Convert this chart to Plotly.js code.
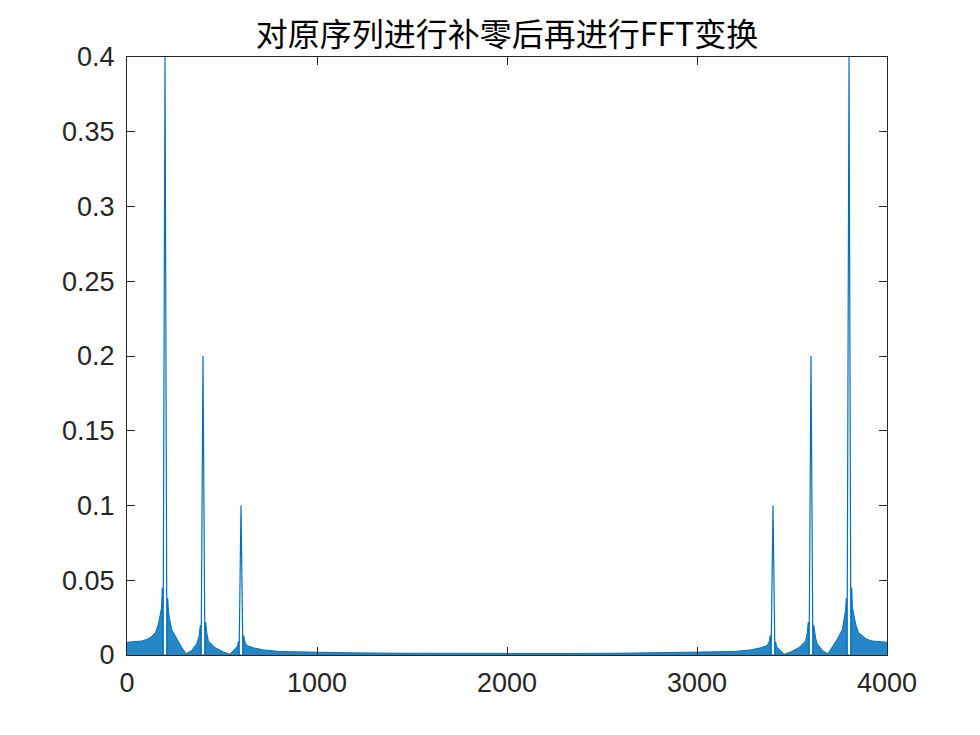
<!DOCTYPE html>
<html><head><meta charset="utf-8">
<script src="https://cdn.plot.ly/plotly-3.0.1.min.js"></script>
<style>html,body{margin:0;padding:0;background:#fff}#chart{width:980px;height:735px}</style>
</head><body><div id="chart"></div>
<script>
// Spectrum body (sidelobe envelope), frequency index and magnitude
const bodyX = [0,40,80,110,130,150,165,175,182,186,190,
  210,214,218,223,235,261,288,311,340,367,375,380,386,390,
  410,414,420,428,463,507,542,577,582,586,590,
  610,614,620,630,665,718,805,980,1156,1400,1700,2000,
  2300,2600,2844,3020,3195,3282,3335,3370,3380,3386,3390,
  3410,3414,3418,3423,3458,3493,3537,3572,3580,3586,3590,
  3610,3614,3620,3625,3633,3660,3689,3712,3739,3765,3777,3782,3786,3790,
  3810,3814,3818,3825,3835,3850,3870,3890,3920,3960,4000];
const bodyY = [0.0085,0.0087,0.0094,0.0107,0.0125,0.015,0.0206,0.027,0.032,0.045,0,
  0,0.038,0.03,0.025,0.017,0.0107,0.005,0.0008,0.003,0.0075,0.011,0.013,0.020,0,
  0,0.022,0.015,0.0094,0.005,0.002,0.0005,0.005,0.006,0.009,0,
  0,0.013,0.009,0.0063,0.0048,0.0034,0.0023,0.0017,0.0015,0.0012,0.001,0.0009,
  0.001,0.0012,0.0015,0.0017,0.0023,0.0034,0.0048,0.0063,0.009,0.013,0,
  0,0.009,0.006,0.005,0.0005,0.002,0.005,0.0094,0.015,0.022,0,
  0,0.020,0.013,0.011,0.0075,0.003,0.0008,0.005,0.0107,0.017,0.025,0.03,0.038,0,
  0,0.045,0.032,0.027,0.0206,0.015,0.0125,0.0107,0.0094,0.0087,0.0085];
// Main-lobe spikes
const spikeX = [190,200,210,null,390,400,410,null,590,600,610,null,
  3390,3400,3410,null,3590,3600,3610,null,3790,3800,3810];
const spikeY = [0,0.4,0,null,0,0.2,0,null,0,0.1,0,null,
  0,0.1,0,null,0,0.2,0,null,0,0.4,0];
const xTicks = [0,1000,2000,3000,4000];
const yTicks = [0,0.05,0.1,0.15,0.2,0.25,0.3,0.35,0.4];
const yTickText = ['0','0.05','0.1','0.15','0.2','0.25','0.3','0.35','0.4'];
const titleText = '对原序列进行补零后再进行FFT变换';

const blue = '#0072BD';
const axisCol = '#262626';
const traces = [
  {x: bodyX, y: bodyY, type:'scatter', mode:'lines', fill:'tozeroy',
   fillcolor:'rgba(0,114,189,0.85)', line:{color:blue, width:1}, hoverinfo:'skip'},
  {x: spikeX, y: spikeY, type:'scatter', mode:'lines', connectgaps:false,
   line:{color:blue, width:1.2}, hoverinfo:'skip'}
];
const axBase = {showline:true, mirror:'ticks', linecolor:axisCol, linewidth:1,
  ticks:'inside', ticklen:8, tickcolor:axisCol, tickwidth:1, showgrid:false,
  zeroline:false, tickfont:{family:'Liberation Sans, Arial, sans-serif', size:27, color:axisCol}};
const layout = {
  width:980, height:735, showlegend:false,
  paper_bgcolor:'#fff', plot_bgcolor:'#fff',
  margin:{l:127, r:93, t:57, b:80},
  title:{text:titleText, x:0.5, xref:'paper', xanchor:'center', y:0.953, yanchor:'middle', yref:'container',
    font:{family:'Noto Sans CJK SC, sans-serif', size:32, color:'#000'}},
  xaxis:Object.assign({}, axBase, {range:[0,4000], tickvals:xTicks, ticktext:xTicks.map(String), ticklabelstandoff:4}),
  yaxis:Object.assign({}, axBase, {range:[0,0.4], tickvals:yTicks, ticktext:yTickText, ticklabelstandoff:6})
};
Plotly.newPlot('chart', traces, layout, {displayModeBar:false, staticPlot:true});
</script></body></html>
